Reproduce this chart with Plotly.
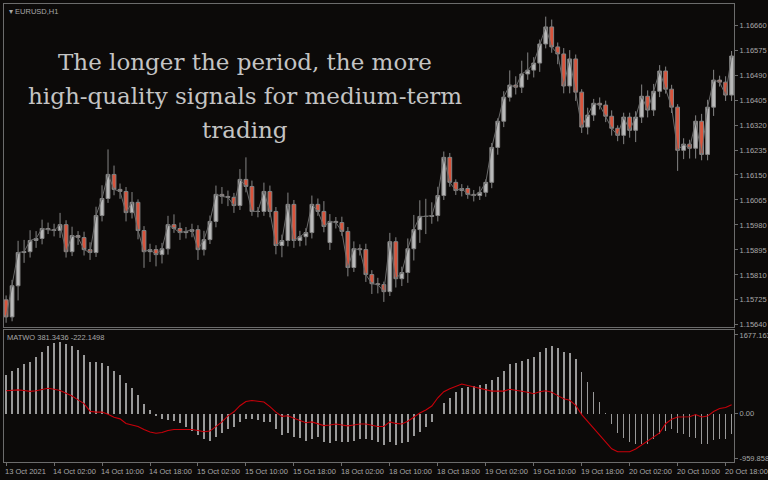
import plotly.graph_objs as go

# Hourly EURUSD bars (bar index 0..121)
closes = [
    1.15667, 1.15773, 1.15886, 1.15889, 1.15927, 1.15934, 1.15968, 1.15964, 1.15961, 1.15981,
    1.15889, 1.15944, 1.15937, 1.15896, 1.15886, 1.16012, 1.16070, 1.16152, 1.16101, 1.16094,
    1.16022, 1.16057, 1.15961, 1.15889, 1.15896, 1.15879, 1.15899, 1.15981, 1.15968, 1.15954,
    1.15958, 1.15964, 1.15896, 1.15930, 1.15992, 1.16084, 1.16077, 1.16074, 1.16046, 1.16135,
    1.16111, 1.16026, 1.16026, 1.16094, 1.16026, 1.15910, 1.15927, 1.16050, 1.15927, 1.15940,
    1.15954, 1.16050, 1.16026, 1.15975, 1.15992, 1.15988, 1.15958, 1.15835, 1.15899, 1.15896,
    1.15811, 1.15780, 1.15777, 1.15753, 1.15923, 1.15797, 1.15818, 1.15899, 1.15964, 1.16009,
    1.16009, 1.16012, 1.16080, 1.16210, 1.16125, 1.16097, 1.16104, 1.16084, 1.16080, 1.16091,
    1.16125, 1.16244, 1.16333, 1.16415, 1.16456, 1.16449, 1.16494, 1.16507, 1.16531, 1.16596,
    1.16654, 1.16586, 1.16562, 1.16453, 1.16545, 1.16432, 1.16313, 1.16354, 1.16394, 1.16388,
    1.16350, 1.16309, 1.16285, 1.16347, 1.16302, 1.16347, 1.16418, 1.16371, 1.16435, 1.16504,
    1.16442, 1.16381, 1.16234, 1.16255, 1.16241, 1.16333, 1.16220, 1.16381, 1.16473, 1.16466,
    1.16422, 1.16555,
]
first_open = 1.15725
gap_opens = {54: 1.15920}

# wick lengths above/below the body, in points (0.00001)
wick_up = [
    15, 20, 40, 40, 35, 25, 30, 20, 20, 40, 15, 30, 15, 20, 25, 30, 45, 85, 30, 20,
    15, 35, 10, 15, 20, 15, 20, 30, 35, 20, 15, 20, 15, 30, 20, 30, 25, 20, 15, 35,
    75, 20, 15, 30, 20, 15, 20, 40, 15, 20, 15, 30, 20, 35, 25, 15, 20, 15, 25, 15,
    20, 15, 20, 10, 30, 15, 20, 35, 50, 55, 60, 45, 30, 20, 15, 10, 15, 10, 15, 20,
    10, 15, 10, 20, 50, 30, 45, 60, 20, 15, 35, 25, 15, 20, 30, 15, 10, 25, 15, 20,
    15, 20, 10, 15, 15, 20, 40, 20, 25, 20, 15, 15, 10, 20, 15, 20, 25, 25, 35, 15,
    20, 17,
]
wick_dn = [
    20, 15, 50, 35, 20, 25, 20, 15, 20, 25, 20, 15, 25, 20, 25, 15, 20, 15, 20, 25,
    30, 20, 30, 55, 35, 40, 30, 20, 15, 25, 20, 20, 35, 20, 15, 20, 25, 30, 25, 15,
    20, 15, 20, 15, 20, 30, 40, 20, 25, 20, 30, 20, 15, 20, 25, 20, 15, 30, 15, 20,
    25, 35, 30, 35, 15, 30, 25, 35, 40, 45, 60, 25, 20, 15, 15, 15, 20, 15, 20, 15,
    15, 20, 25, 20, 15, 25, 20, 20, 25, 30, 15, 20, 35, 25, 25, 30, 20, 25, 20, 15,
    20, 25, 20, 30, 25, 40, 20, 25, 20, 20, 15, 20, 70, 30, 35, 35, 20, 20, 30, 15,
    20, 20,
]

# MATWO indicator: histogram and signal line
matwo_hist = [
    832, 897, 962, 1047, 1105, 1203, 1320, 1430, 1495, 1515, 1482, 1430, 1352, 1255, 1092,
    1092, 1073, 1008, 910, 813, 650, 540, 390, 195, 72, -59, -111, -130, -156, -195,
    -286, -371, -455, -546, -585, -500, -416, -338, -293, -176, -124, -124, -143, -176, -189,
    -338, -455, -416, -500, -514, -585, -533, -500, -598, -630, -585, -598, -611, -578, -533,
    -533, -565, -611, -663, -598, -663, -620, -605, -488, -397, -293, -182, 0, 228, 325,
    449, 553, 572, 585, 611, 631, 709, 787, 897, 1046, 1079, 1111, 1157, 1209, 1306,
    1404, 1430, 1404, 1306, 1300, 1157, 878, 663, 468, 254, 10, -228, -423, -527, -605,
    -657, -650, -650, -540, -442, -364, -332, -423, -442, -507, -527, -657, -657, -566, -540,
    -540, -442,
]
matwo_signal = [
    488, 494, 507, 494, 475, 488, 507, 540, 520, 494, 436, 377, 293, 215, 52,
    33, 33, -13, -78, -111, -208, -241, -273, -338, -390, -416, -403, -358, -338, -338,
    -338, -338, -358, -384, -371, -273, -176, -46, 39, 169, 260, 280, 267, 247, 150,
    33, -59, -46, -98, -143, -195, -176, -208, -254, -241, -221, -241, -260, -241, -221,
    -221, -241, -273, -273, -176, -208, -221, -163, -72, 13, 78, 163, 338, 468, 533,
    585, 631, 598, 566, 533, 501, 481, 481, 481, 520, 501, 481, 455, 423, 468,
    488, 455, 384, 319, 286, 176, -20, -169, -312, -462, -618, -748, -813, -813, -813,
    -754, -670, -592, -507, -410, -215, -117, -72, -72, -65, -20, -72, -52, 46, 111,
    130, 189,
]

time_ticks = [0, 8, 16, 24, 32, 40, 48, 56, 64, 72, 80, 88, 96, 104, 112, 120]
time_labels = ['13 Oct 2021', '14 Oct 02:00', '14 Oct 10:00', '14 Oct 18:00',
               '15 Oct 02:00', '15 Oct 10:00', '15 Oct 18:00', '18 Oct 02:00',
               '18 Oct 10:00', '18 Oct 18:00', '19 Oct 02:00', '19 Oct 10:00',
               '19 Oct 18:00', '20 Oct 02:00', '20 Oct 10:00', '20 Oct 18:00']
price_ticks = [1.15640, 1.15725, 1.15810, 1.15895, 1.15980, 1.16065, 1.16150,
               1.16235, 1.16320, 1.16405, 1.16490, 1.16575, 1.16660]
matwo_ticks = [-959.8587, 0.0, 1677.1635]
matwo_labels = ['-959.8587', '0.00', '1677.1635']

headline = ['The longer the period, the more',
            'high-quality signals for medium-term',
            'trading']

# Plot parameters
bg_color = '#0c0a09'
frame_color = '#6c6c6c'
text_color = '#a8a8a8'
bull_color = '#b9b9b9'
bear_color = '#d9543c'
wick_color = '#858585'
small_font = dict(family='Liberation Sans', size=7.5, color=text_color)
ml, mr, mt, mb = 4, 34, 4, 18
plot_w, plot_h = 768 - ml - mr, 480 - mt - mb

bars = list(range(len(closes)))
opens = [first_open] + closes[:-1]
for i, v in gap_opens.items():
    opens[i] = v
highs = [max(o, c) + u * 1e-5 for o, c, u in zip(opens, closes, wick_up)]
lows = [min(o, c) - d * 1e-5 for o, c, d in zip(opens, closes, wick_dn)]

close_line = go.Scatter(x=bars, y=closes, mode='lines',
                        line=dict(color='#6a6a6a', width=1),
                        hoverinfo='skip', xaxis='x', yaxis='y')

candles = go.Candlestick(
    x=bars, open=opens, high=highs, low=lows, close=closes,
    increasing=dict(fillcolor=bull_color, line=dict(color=wick_color, width=1)),
    decreasing=dict(fillcolor=bear_color, line=dict(color=wick_color, width=1)),
    xaxis='x', yaxis='y')

hist = go.Bar(x=bars, y=matwo_hist, width=0.1,
              marker=dict(color='#999999', line=dict(width=0)),
              xaxis='x2', yaxis='y2')

signal = go.Scatter(x=bars, y=matwo_signal, mode='lines',
                    line=dict(color='#c8000a', width=1.1),
                    xaxis='x2', yaxis='y2')

axis_common = dict(showgrid=False, zeroline=False, showline=True,
                   linecolor=frame_color, linewidth=1, mirror=True,
                   automargin=False, tickfont=small_font,
                   ticks='outside', ticklen=3, tickcolor=frame_color)
x_range = [-0.35, 121.4]

layout = go.Layout(
    width=768, height=480,
    paper_bgcolor=bg_color, plot_bgcolor=bg_color,
    margin=dict(l=ml, r=mr, t=mt, b=mb),
    showlegend=False,
    boxgap=0.1,
    xaxis=dict(axis_common, domain=[0, 1], range=x_range, showticklabels=False,
               ticks='', rangeslider=dict(visible=False), anchor='y'),
    yaxis=dict(axis_common, domain=[0.295, 1], range=[1.15633, 1.16732],
               side='right', tickvals=price_ticks, tickformat='.5f', anchor='x'),
    xaxis2=dict(axis_common, domain=[0, 1], range=x_range, anchor='y2',
                tickvals=time_ticks, showticklabels=False),
    yaxis2=dict(axis_common, domain=[0, 0.288], range=[-1030, 1780],
                side='right', tickvals=matwo_ticks, ticktext=matwo_labels,
                anchor='x2'),
    bargap=0,
)

fig = go.Figure(data=[close_line, candles, hist, signal], layout=layout)

for t, lab in zip(time_ticks, time_labels):
    fig.add_annotation(x=t, y=0, xref='x2', yref='paper', yshift=-3,
                       text=lab, showarrow=False, xanchor='left', yanchor='top',
                       xshift=-3, font=small_font)

for i, line in enumerate(headline):
    fig.add_annotation(x=(245 - ml) / plot_w, y=1 - (62 + i * 34 - mt) / plot_h,
                       xref='paper', yref='paper',
                       text=line, showarrow=False, xanchor='center',
                       yanchor='middle',
                       font=dict(family='DejaVu Serif', size=23, color='#c4c4c4'))

fig.add_annotation(x=0.004, y=0.997, xref='paper', yref='paper',
                   text='▾ EURUSD,H1', showarrow=False, xanchor='left',
                   yanchor='top', font=small_font)
fig.add_annotation(x=0.002, y=0.286, xref='paper', yref='paper',
                   text='MATWO 381.3436 -222.1498', showarrow=False,
                   xanchor='left', yanchor='top', font=small_font)

fig.write_html('out.html', config={'displayModeBar': False},
               post_script="document.body.style.margin='0';"
                           "document.body.style.background='#0c0a09';")
